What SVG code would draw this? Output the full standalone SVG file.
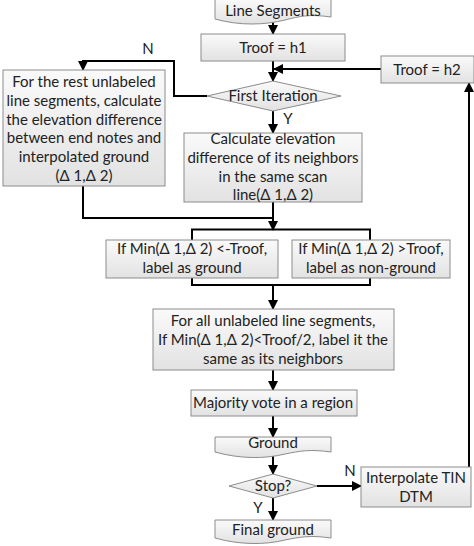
<svg xmlns="http://www.w3.org/2000/svg" width="474" height="546" viewBox="0 0 474 546">
<defs>
<linearGradient id="g" x1="0" y1="0" x2="0" y2="1">
<stop offset="0" stop-color="#fafafa"/>
<stop offset="1" stop-color="#e2e2e2"/>
</linearGradient>
<marker id="ah" markerWidth="10" markerHeight="10" refX="9" refY="5" orient="auto" markerUnits="userSpaceOnUse">
<path d="M0,0 L10,5 L0,10 Z" fill="#000"/>
</marker>
</defs>
<style>
.box{fill:url(#g);stroke:#8c8c8c;stroke-width:1}
.t{font-family:Lato,"Liberation Sans",sans-serif;font-size:15px;fill:#222;text-anchor:middle}
.c{fill:none;stroke:#000;stroke-width:2}
.a{fill:none;stroke:#000;stroke-width:2;marker-end:url(#ah)}
</style>
<rect width="474" height="546" fill="#fff"/>
<g id="connectors">
<line class="a" x1="273" y1="21" x2="273" y2="34"/>
<line class="a" x1="273" y1="61" x2="273" y2="81"/>
<line class="a" x1="381" y1="69" x2="274" y2="69"/>
<polyline class="a" points="207,96 174,96 174,61 83,61 83,70"/>
<line class="a" x1="273" y1="111" x2="273" y2="133"/>
<polyline class="c" points="83,186 83,218 273,218"/>
<line class="a" x1="273" y1="202" x2="273" y2="230"/>
<polyline class="c" points="192,240 192,229.5 370,229.5 370,240"/>
<polyline class="c" points="192,278 192,285 370,285 370,278"/>
<line class="a" x1="273" y1="285" x2="273" y2="309"/>
<line class="a" x1="273" y1="370" x2="273" y2="390"/>
<line class="a" x1="273" y1="416" x2="273" y2="437"/>
<line class="a" x1="273" y1="453" x2="273" y2="474"/>
<line class="a" x1="317" y1="486" x2="361" y2="486"/>
<line class="a" x1="469" y1="467" x2="469" y2="83"/>
<line class="a" x1="273" y1="498" x2="273" y2="520"/>
<text class="t" x="148" y="54">N</text>
<text class="t" x="288" y="124">Y</text>
<text class="t" x="350" y="476">N</text>
<text class="t" x="258" y="513">Y</text>
</g>
<g id="line-segments">
<path class="box" d="M215,-1 H331 V17 C310,14 300,16 285,20 C265,25 240,26 215,19 Z"/>
<text class="t" x="273" y="16">Line Segments</text>
</g>
<g id="troof-h1">
<rect class="box" x="201" y="34" width="144" height="27"/>
<text class="t" x="273" y="53">Troof = h1</text>
</g>
<g id="troof-h2">
<rect class="box" x="381" y="56" width="93" height="27"/>
<text class="t" x="427" y="75">Troof = h2</text>
</g>
<g id="first-iteration">
<polygon class="box" points="273,81 341,96 273,111 207,96"/>
<text class="t" x="273" y="101">First Iteration</text>
</g>
<g id="rest-unlabeled">
<rect class="box" x="3" y="70" width="162" height="116"/>
<text class="t" x="84" y="87">For the rest unlabeled</text>
<text class="t" x="84" y="106">line segments, calculate</text>
<text class="t" x="84" y="125">the elevation difference</text>
<text class="t" x="84" y="143">between end notes and</text>
<text class="t" x="84" y="162">interpolated ground</text>
<text class="t" x="84" y="181">(Δ 1,Δ 2)</text>
</g>
<g id="calc-neighbors">
<rect class="box" x="184" y="133" width="178" height="69"/>
<text class="t" x="273" y="144">Calculate elevation</text>
<text class="t" x="273" y="163">difference of its neighbors</text>
<text class="t" x="273" y="182">in the same scan</text>
<text class="t" x="273" y="200">line(Δ 1,Δ 2)</text>
</g>
<g id="label-ground">
<rect class="box" x="106" y="240" width="172" height="38"/>
<text class="t" x="192" y="254">If Min(Δ 1,Δ 2) &lt;-Troof,</text>
<text class="t" x="192" y="273">label as ground</text>
</g>
<g id="label-nonground">
<rect class="box" x="292" y="240" width="158" height="38"/>
<text class="t" x="371" y="254">If Min(Δ 1,Δ 2) &gt;Troof,</text>
<text class="t" x="371" y="273">label as non-ground</text>
</g>
<g id="all-unlabeled">
<rect class="box" x="153" y="309" width="241" height="61"/>
<text class="t" x="273" y="326">For all unlabeled line segments,</text>
<text class="t" x="273" y="345">If Min(Δ 1,Δ 2)&lt;Troof/2, label it the</text>
<text class="t" x="273" y="364">same as its neighbors</text>
</g>
<g id="majority-vote">
<rect class="box" x="191" y="390" width="166" height="26"/>
<text class="t" x="273" y="408">Majority vote in a region</text>
</g>
<g id="ground">
<path class="box" d="M215,437 H331 V452 C310,449 300,451 285,454 C265,459 240,459 215,452 Z"/>
<text class="t" x="273" y="448">Ground</text>
</g>
<g id="stop">
<polygon class="box" points="273,474 317,486 273,498 229,486"/>
<text class="t" x="273" y="491">Stop?</text>
</g>
<g id="interpolate-tin">
<rect class="box" x="361" y="467" width="110" height="40"/>
<text class="t" x="416" y="483">Interpolate TIN</text>
<text class="t" x="416" y="502">DTM</text>
</g>
<g id="final-ground">
<path class="box" d="M215,520 H331 V538 C310,535 300,537 285,540 C265,545 240,545 215,538 Z"/>
<text class="t" x="273" y="535">Final ground</text>
</g>
</svg>
